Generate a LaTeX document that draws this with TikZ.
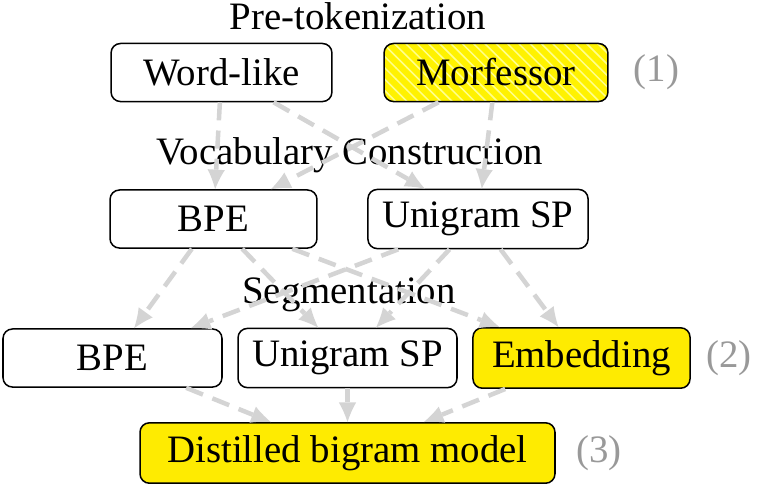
\documentclass[tikz,border=0pt]{standalone}
\usepackage{fontspec}
\setmainfont{Liberation Serif}
\usetikzlibrary{arrows.meta,positioning,patterns}
\colorlet{flowgray}{black!17}
\tikzset{flow/.style = {
  draw=flowgray,
  dash pattern=on 4.8pt off 2.7pt,
  line width=1.2pt,
  -{Latex[length=5.2pt,width=4.6pt,color=flowgray,fill=flowgray,line width=0pt]},
}}

\begin{document}
\begin{tikzpicture}[
  x=0.2653pt, y=-0.2653pt,
  font=\fontsize{10.3}{12.4}\selectfont,
  stage/.style={rectangle,draw,rounded corners=2.5pt,align=center,
    minimum height=15.4pt,line width=0.4pt},
  picked/.style={fill=yellow!93!orange},
  phase/.style={align=center},
  note/.style={text=black!40},
  ]
  \useasboundingbox (0,0) rectangle (758,486);

  \node [phase] (PRE) at (358,16) {Pre-tokenization};
  \node [stage,minimum width=58.6pt] (WRD) at (221.5,72.5) {Word-like};
  \node [stage,minimum width=59.4pt,preaction={fill=yellow},
         pattern=north west lines,pattern color=white!55!yellow] (MRF) at (496,72.5) {Morfessor};
  \node [note] (N1) [right=3.1pt of MRF] {(1)};

  \node [phase] (VOC) at (350,155) {Vocabulary Construction};
  \node [stage,minimum width=54.9pt] (BPV) at (213.5,219) {BPE};
  \node [stage,minimum width=58.4pt] (UNV) at (478,219) {Unigram SP};

  \node [phase] (SEG) at (349,295) {Segmentation};
  \node [stage,minimum width=58.1pt] (BPS) at (112.5,358) {BPE};
  \node [stage,minimum width=58.1pt] (UNS) at (347.5,358) {Unigram SP};
  \node [stage,picked,minimum width=57.6pt] (EMB) at (581.5,358) {Embedding};
  \node [note] (N2) [right=0.6pt of EMB] {(2)};

  \node [stage,picked,minimum width=110.1pt] (DBM) at (347.5,453) {Distilled bigram model};
  \node [note] (N3) [right=2pt of DBM] {(3)};

  \draw[flow] (WRD) edge (BPV)
              (WRD) edge (UNV)
              (MRF) edge (BPV)
              (MRF) edge (UNV);
  \draw[flow] (BPV) edge (BPS)
              (BPV) edge (UNS)
              (BPV) edge (EMB)
              (UNV) edge (BPS)
              (UNV) edge (UNS)
              (UNV) edge (EMB);
  \draw[flow] (BPS) edge (DBM)
              (UNS) edge (DBM)
              (EMB) edge (DBM);
\end{tikzpicture}
\end{document}
